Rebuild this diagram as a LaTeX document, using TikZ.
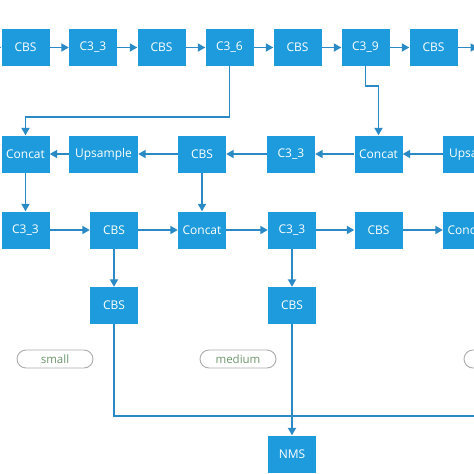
\documentclass[tikz,border=0pt]{standalone}
\usepackage{fontspec}
\setmainfont{Open Sans}
\usetikzlibrary{arrows.meta}
\definecolor{boxblue}{RGB}{30,155,220}
\definecolor{lineblue}{RGB}{42,138,198}
\definecolor{tagtext}{RGB}{110,150,110}
\tikzset{
	blk/.style={fill=boxblue, text=white, minimum width=48pt, minimum height=37pt, inner sep=0pt, font=\fontsize{12}{14}\selectfont},
	tag/.style={draw=gray!65, line width=0.9pt, rounded corners=9pt, text=tagtext, minimum width=76pt, minimum height=18pt, inner sep=0pt, font=\fontsize{11.5}{13}\selectfont},
	link/.style={draw=lineblue, line width=1.8pt}
}

\begin{document}
\begin{tikzpicture}[x=1pt,y=-1pt,>={Triangle[length=7.5pt,width=8pt]}]
				\clip (0,0) rectangle (474,474);
				\fill[white] (0,0) rectangle (474,474);

				\node[blk] (cbsA) at (25.5,47.5) {CBS};
				\node[blk] (c33A) at (93,47.5) {C3\_3};
				\node[blk] (cbsB) at (161.5,47.5) {CBS};
				\node[blk] (c36) at (229.5,47.5) {C3\_6};
				\node[blk] (cbsC) at (297.5,47.5) {CBS};
				\node[blk] (c39) at (365.5,47.5) {C3\_9};
				\node[blk] (cbsD) at (433.5,47.5) {CBS};
				\coordinate (inL) at (-12,47.5);
				\coordinate (outR) at (478,47.5);

				\node[blk] (concatL) at (25.5,154) {Concat};
				\node[blk,minimum width=69pt] (ups) at (103.5,154) {Upsample};
				\node[blk] (cbsE) at (202,154) {CBS};
				\node[blk] (c33B) at (291,154) {C3\_3};
				\node[blk] (concatR) at (378.5,154) {Concat};
				\node[blk,minimum width=69pt] (upsR) at (477.5,154) {Upsample};
				\coordinate (bendA) at (25.5,117);
				\coordinate (bendB) at (365.5,86);

				\node[blk] (c33C) at (25.5,230) {C3\_3};
				\node[blk] (cbsF) at (114,230) {CBS};
				\node[blk] (concatM) at (202,230) {Concat};
				\node[blk] (c33D) at (292,230) {C3\_3};
				\node[blk] (cbsG) at (378.5,230) {CBS};
				\node[blk] (concatR3) at (467,230) {Concat};

				\node[blk] (outS) at (114,305.5) {CBS};
				\node[blk] (outM) at (292,305.5) {CBS};
				\node[blk] (nms) at (292,454) {NMS};
				\coordinate (join) at (292,416);
				\coordinate (edgeR) at (480,416);

				\node[tag] (small) at (55,359) {small};
				\node[tag] (medium) at (238,359) {medium};
				\node[tag] (large) at (502,359) {};

				\draw [link,->](inL) -- (cbsA);
				\draw [link,->](cbsA) -- (c33A);
				\draw [link,->](c33A) -- (cbsB);
				\draw [link,->](cbsB) -- (c36);
				\draw [link,->](c36) -- (cbsC);
				\draw [link,->](cbsC) -- (c39);
				\draw [link,->](c39) -- (cbsD);
				\draw [link,->](cbsD) -- (outR);

				\draw [link,->](c36) |- (bendA) -- (concatL);
				\draw [link,->](c39) -- (bendB) -| (concatR);

				\draw [link,->](upsR) -- (concatR);
				\draw [link,->](concatR) -- (c33B);
				\draw [link,->](c33B) -- (cbsE);
				\draw [link,->](cbsE) -- (ups);
				\draw [link,->](ups) -- (concatL);

				\draw [link,->](concatL) -- (c33C);
				\draw [link,->](cbsE) -- (concatM);

				\draw [link,->](c33C) -- (cbsF);
				\draw [link,->](cbsF) -- (concatM);
				\draw [link,->](concatM) -- (c33D);
				\draw [link,->](c33D) -- (cbsG);
				\draw [link,->](cbsG) -- (concatR3);

				\draw [link,->](cbsF) -- (outS);
				\draw [link,->](c33D) -- (outM);
				\draw [link](outS) |- (join);
				\draw [link](edgeR) -- (join);
				\draw [link,->](outM) -- (nms);
			\end{tikzpicture}
\end{document}
